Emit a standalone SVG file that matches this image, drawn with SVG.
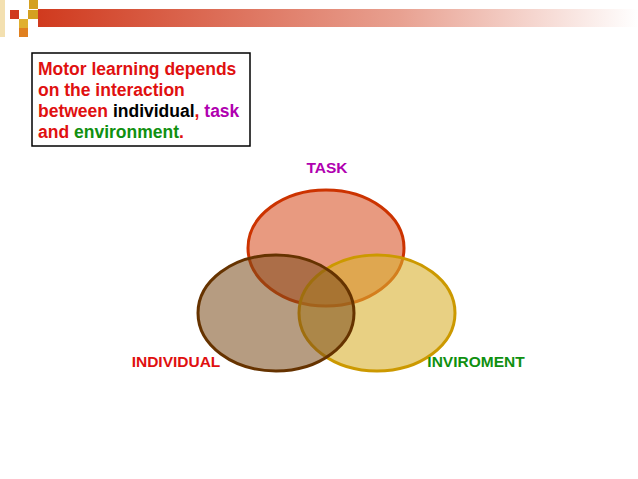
<svg xmlns="http://www.w3.org/2000/svg" width="638" height="479" viewBox="0 0 638 479">
<defs><linearGradient id="bar" x1="0" x2="1"><stop offset="0" stop-color="#d03a1e"/><stop offset="0.6" stop-color="#e8a090"/><stop offset="1" stop-color="#ffffff"/></linearGradient></defs>
<style>text{font-family:"Liberation Sans",Arial,sans-serif;font-weight:bold}.m{font-size:17.5px}.l{font-size:15.5px}</style>
<rect width="638" height="479" fill="#fff"/>
<g id="decor">
<rect x="38" y="9" width="600" height="18" fill="url(#bar)"/>
<rect x="0" y="0" width="5" height="37" fill="#f3e0b0"/>
<rect x="29" y="0" width="9" height="9" fill="#d4a020"/>
<rect x="10" y="10" width="9" height="9" fill="#d03a1e"/>
<rect x="28" y="10" width="10" height="9" fill="#d4a020"/>
<rect x="19" y="19" width="9" height="9" fill="#e0b030"/>
<rect x="19" y="28" width="9" height="9" fill="#e08020"/>
</g>
<g id="note">
<rect x="32" y="53" width="218" height="93" fill="#fff" stroke="#000" stroke-width="1.5"/>
<text class="m" x="38" y="75" fill="#e01010">Motor learning depends</text>
<text class="m" x="38" y="96" fill="#e01010">on the interaction</text>
<text class="m" x="38" y="117" fill="#e01010">between <tspan fill="#000">individual</tspan>, <tspan fill="#b000b0">task</tspan></text>
<text class="m" x="38" y="138" fill="#e01010">and <tspan fill="#109010">environment</tspan>.</text>
</g>
<g id="task"><ellipse cx="326" cy="248" rx="78" ry="58" fill="#e89a80" stroke="#cc3300" stroke-width="3"/></g>
<g id="enviroment"><ellipse cx="377" cy="313" rx="78" ry="58" fill="#d8b030" fill-opacity="0.6" stroke="#cc9900" stroke-width="3"/></g>
<g id="individual"><ellipse cx="276" cy="313" rx="78" ry="58" fill="#7a4a1a" fill-opacity="0.55" stroke="#663300" stroke-width="3"/></g>
<g id="labels">
<text class="l" x="327" y="173" text-anchor="middle" fill="#b000b0">TASK</text>
<text class="l" x="176" y="367" text-anchor="middle" fill="#e01010">INDIVIDUAL</text>
<text class="l" x="476" y="367" text-anchor="middle" fill="#109010">INVIROMENT</text>
</g>
</svg>
